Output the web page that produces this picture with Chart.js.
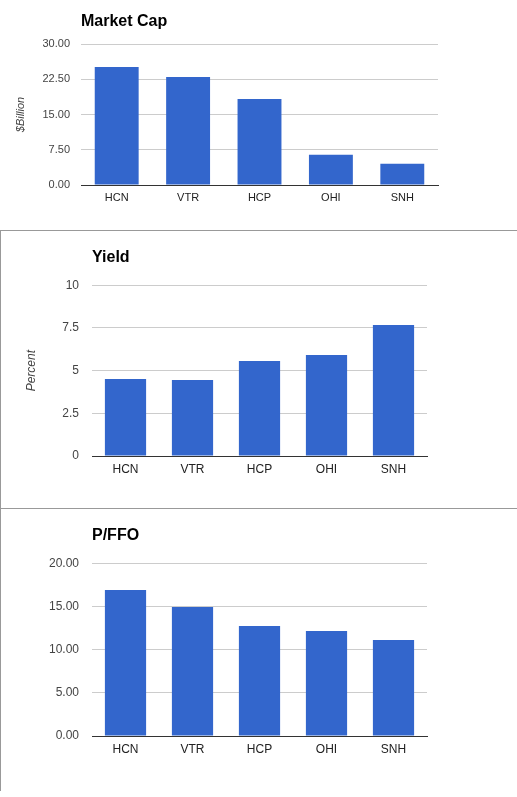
<!DOCTYPE html>
<html>
<head>
<meta charset="utf-8">
<script src="https://cdn.jsdelivr.net/npm/chart.js@4"></script>
<style>
  html, body { margin: 0; padding: 0; background: #fff; }
  body { width: 517px; height: 797px; position: relative; overflow: hidden; font-family: Arial, "Liberation Sans", sans-serif; }
  canvas { position: absolute; display: block; }
  .hl { position: absolute; left: 0; width: 517px; height: 1px; background: #999; }
  .vl { position: absolute; left: 0; width: 1px; background: #999; }
</style>
</head>
<body>
<canvas id="c1" width="517" height="230" style="left:0;top:0;width:517px;height:230px"></canvas>
<canvas id="c2" width="516" height="277" style="left:1px;top:231px;width:516px;height:277px"></canvas>
<canvas id="c3" width="516" height="282" style="left:1px;top:509px;width:516px;height:282px"></canvas>
<div class="hl" style="top:230px"></div>
<div class="hl" style="top:508px"></div>
<div class="vl" style="top:230px;height:561px"></div>
<script>
const categories = ['HCN', 'VTR', 'HCP', 'OHI', 'SNH'];
const marketCap = [25.1, 23.0, 18.3, 6.44, 4.53];
const yieldPct = [4.51, 4.45, 5.57, 5.92, 7.67];
const pffo = [16.9, 14.95, 12.74, 12.17, 11.12];

const capTicks = ['0.00', '7.50', '15.00', '22.50', '30.00'];
const yieldTicks = ['0', '2.5', '5', '7.5', '10'];
const pffoTicks = ['0.00', '5.00', '10.00', '15.00', '20.00'];

const FONT = 'Arial, "Liberation Sans", sans-serif';
const BAR = '#3366cc';

function makeChart(id, cfg) {
  return new Chart(document.getElementById(id), {
    type: 'bar',
    data: {
      labels: categories,
      datasets: [{
        data: cfg.data,
        backgroundColor: BAR,
        borderWidth: 0,
        categoryPercentage: 1,
        barPercentage: 0.615
      }]
    },
    options: {
      responsive: false,
      animation: false,
      devicePixelRatio: 1,
      layout: { padding: { left: 0, right: cfg.right, top: 0, bottom: 0 } },
      plugins: {
        legend: { display: false },
        tooltip: { enabled: false },
        title: {
          display: true,
          text: cfg.title,
          align: 'start',
          fullSize: false,
          color: '#000',
          font: { family: FONT, size: 16, weight: 'bold', lineHeight: 1.2 },
          padding: { top: cfg.titleTop, bottom: cfg.titleBottom }
        }
      },
      scales: {
        x: {
          grid: { display: false, drawTicks: false },
          border: { display: true, color: '#333', width: 1 },
          ticks: { color: '#222', padding: 6, font: { family: FONT, size: cfg.fs }, maxRotation: 0 },
          afterFit: s => { s.height = cfg.xh; }
        },
        y: {
          min: 0,
          max: cfg.max,
          afterBuildTicks: s => { s.ticks = cfg.ticks.map(t => ({ value: parseFloat(t) })); },
          grid: {
            drawTicks: false,
            color: c => (c.tick && c.tick.value === 0) ? '#333' : '#cccccc',
            lineWidth: 1
          },
          border: { display: false },
          ticks: {
            color: '#444',
            padding: cfg.tickPad,
            font: { family: FONT, size: cfg.fs },
            callback: (v, i) => cfg.ticks[i]
          },
          title: cfg.ytitle ? {
            display: true,
            text: cfg.ytitle,
            color: '#444',
            font: { family: FONT, size: cfg.fs, style: 'italic', lineHeight: 1.2 },
            padding: { top: cfg.ytPad, bottom: 0 }
          } : { display: false },
          afterFit: s => { s.width = cfg.left; }
        }
      }
    }
  });
}

makeChart('c1', {
  data: marketCap, title: 'Market Cap', ticks: capTicks, max: 30,
  right: 79, left: 81, xh: 45, fs: 11, tickPad: 11,
  titleTop: 11.9, titleBottom: 12.9,
  ytitle: '$Billion', ytPad: 14.4
});
makeChart('c2', {
  data: yieldPct, title: 'Yield', ticks: yieldTicks, max: 10,
  right: 90, left: 91, xh: 52, fs: 12, tickPad: 13,
  titleTop: 17.4, titleBottom: 17.7,
  ytitle: 'Percent', ytPad: 23.5
});
makeChart('c3', {
  data: pffo, title: 'P/FFO', ticks: pffoTicks, max: 20,
  right: 90, left: 91, xh: 55, fs: 12, tickPad: 13,
  titleTop: 17.4, titleBottom: 17.7,
  ytitle: null
});
</script>
</body>
</html>
